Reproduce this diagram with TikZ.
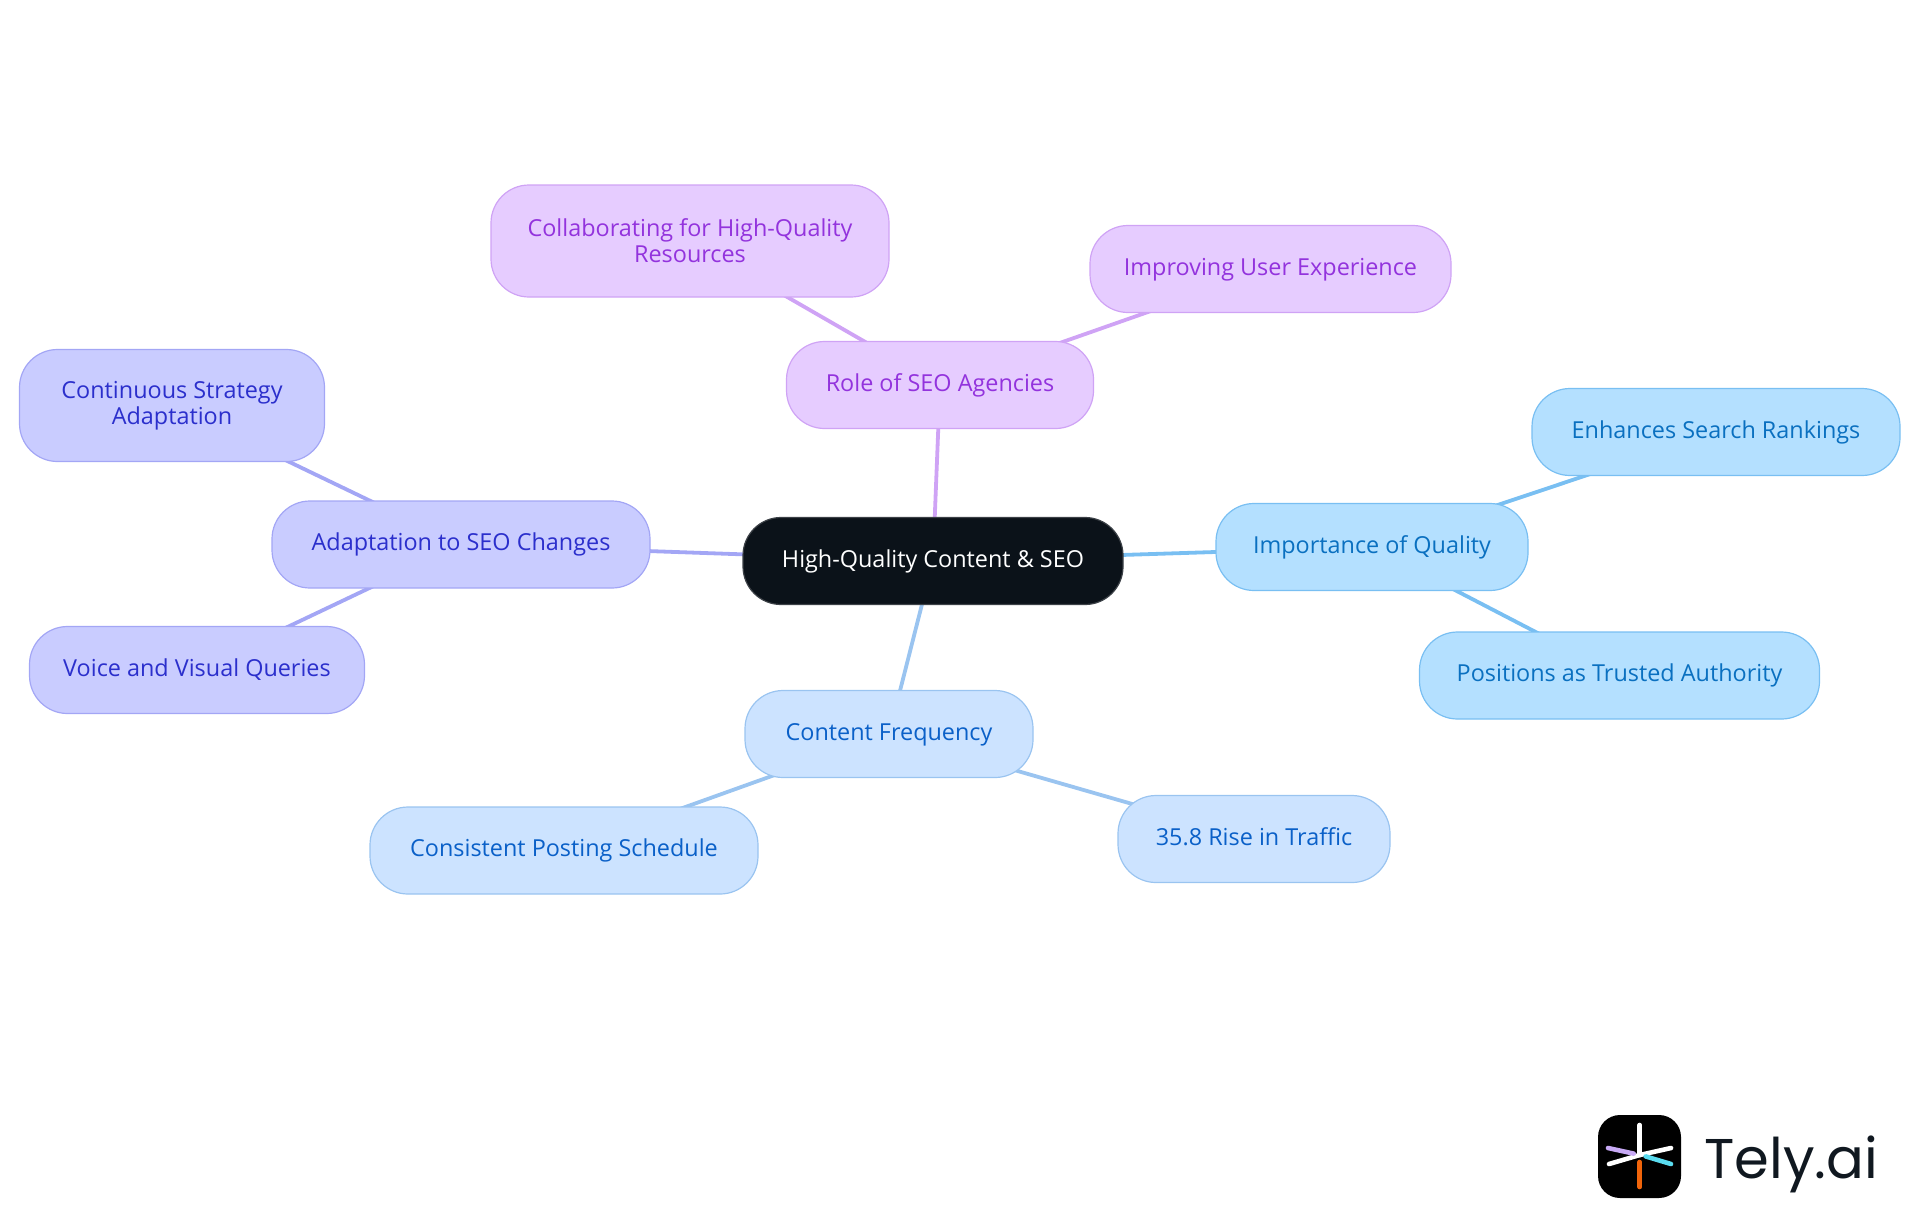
\documentclass[tikz,border=0pt]{standalone}
\usepackage{fontspec}
\setmainfont{Open Sans}
\newfontfamily\brandfont{Poppins}
\usetikzlibrary{backgrounds}
\definecolor{rootfill}{HTML}{0B1219}
\definecolor{purplefill}{HTML}{E6CCFF}
\definecolor{purpleline}{HTML}{CFA3F5}
\definecolor{purpletext}{HTML}{9333DD}
\definecolor{indigofill}{HTML}{C9CCFF}
\definecolor{indigoline}{HTML}{A3A6F5}
\definecolor{indigotext}{HTML}{2B2FCC}
\definecolor{skyfill}{HTML}{B4E0FF}
\definecolor{skyline}{HTML}{79BFF2}
\definecolor{skytext}{HTML}{0A70C0}
\definecolor{bluefill}{HTML}{CCE3FF}
\definecolor{blueline}{HTML}{9AC4F0}
\definecolor{bluetext}{HTML}{0A60C8}
\definecolor{logotext}{HTML}{101820}
\tikzset{
  mapnode/.style={draw, rectangle, rounded corners=19pt, line width=0.6pt, inner sep=0pt,
    align=center, font=\fontsize{11.7}{12.9}\selectfont, minimum height=43.5pt},
  oneline/.style={text height=9pt, text depth=2.8pt},
  rootnode/.style={mapnode, oneline, fill=rootfill, draw=rootfill!80!white, text=white},
  rolenode/.style={mapnode, fill=purplefill, draw=purpleline, text=purpletext},
  adaptnode/.style={mapnode, fill=indigofill, draw=indigoline, text=indigotext},
  qualitynode/.style={mapnode, fill=skyfill, draw=skyline, text=skytext},
  freqnode/.style={mapnode, fill=bluefill, draw=blueline, text=bluetext},
  link/.style={line width=1.9pt},
  ray/.style={line width=2.3pt, line cap=round}
}
\begin{document}
\begin{tikzpicture}[x=0.5pt, y=-0.5pt]
    \useasboundingbox (0, 0) rectangle (1920, 1215);

    \node[rootnode, minimum width=190pt] (root) at (933, 561) {High-Quality Content \& SEO};

    \node[rolenode, oneline, minimum width=153.5pt] (role) at (940, 385) {Role of SEO Agencies};
    \node[rolenode, minimum width=199pt, minimum height=56pt] (collab) at (690, 241) {Collaborating for High-Quality\\Resources};
    \node[rolenode, oneline, minimum width=180.5pt] (improve) at (1270.5, 269) {Improving User Experience};

    \node[adaptnode, oneline, minimum width=189pt] (adapt) at (461, 544.5) {Adaptation to SEO Changes};
    \node[adaptnode, minimum width=152.5pt, minimum height=56pt] (strategy) at (172, 405.5) {Continuous Strategy\\Adaptation};
    \node[adaptnode, oneline, minimum width=167.5pt] (voice) at (197, 670) {Voice and Visual Queries};

    \node[qualitynode, oneline, minimum width=156pt] (quality) at (1372, 547) {Importance of Quality};
    \node[qualitynode, oneline, minimum width=184pt] (rankings) at (1716, 432) {Enhances Search Rankings};
    \node[qualitynode, oneline, minimum width=200pt] (trusted) at (1619.5, 675.5) {Positions as Trusted Authority};

    \node[freqnode, oneline, minimum width=144pt] (freq) at (889, 734) {Content Frequency};
    \node[freqnode, oneline, minimum width=194pt] (posting) at (564, 850.5) {Consistent Posting Schedule};
    \node[freqnode, oneline, minimum width=136pt] (traffic) at (1254, 839) {35.8 Rise in Traffic};

    % Links
    \begin{pgfonlayer}{background}
    \draw[link, purpleline] (root.center) -- (role.center);
    \draw[link, purpleline] (role.center) -- (collab.center);
    \draw[link, purpleline] (role.center) -- (improve.center);
    \draw[link, indigoline] (root.center) -- (adapt.center);
    \draw[link, indigoline] (adapt.center) -- (strategy.center);
    \draw[link, indigoline] (adapt.center) -- (voice.center);
    \draw[link, skyline] (root.center) -- (quality.center);
    \draw[link, skyline] (quality.center) -- (rankings.center);
    \draw[link, skyline] (quality.center) -- (trusted.center);
    \draw[link, blueline] (root.center) -- (freq.center);
    \draw[link, blueline] (freq.center) -- (posting.center);
    \draw[link, blueline] (freq.center) -- (traffic.center);
    \end{pgfonlayer}

    % Logo
    \node[fill=black, rounded corners=11pt, minimum size=41.5pt, inner sep=0pt] (logo) at (1639.5, 1156.5) {};
    \coordinate (hub) at (1639.7, 1155);
    \coordinate (raytop) at (1639.7, 1125);
    \coordinate (raybottom) at (1639.7, 1187);
    \coordinate (rayleftup) at (1608, 1148);
    \coordinate (rayleftdown) at (1609, 1164);
    \coordinate (rayrightup) at (1671, 1148);
    \coordinate (rayrightdown) at (1671, 1164);
    \draw[ray, white] (hub) -- (raytop);
    \draw[ray, white] (hub) -- (rayleftdown);
    \draw[ray, white] (hub) -- (rayrightup);
    \draw[ray, color={rgb,255:red,200;green,170;blue,245}] ([xshift=-3pt, yshift=0.7pt]hub) -- (rayleftup);
    \draw[ray, color={rgb,255:red,90;green,220;blue,240}] ([xshift=3pt, yshift=-0.7pt]hub) -- (rayrightdown);
    \draw[ray, color={rgb,255:red,240;green,100;blue,10}] ([yshift=-3.5pt]hub) -- (raybottom);
    \node[anchor=base west, inner sep=0pt, text=logotext, font=\brandfont\fontsize{28}{28}\selectfont] (brand) at (1704, 1178) {Tely.ai};
\end{tikzpicture}
\end{document}
